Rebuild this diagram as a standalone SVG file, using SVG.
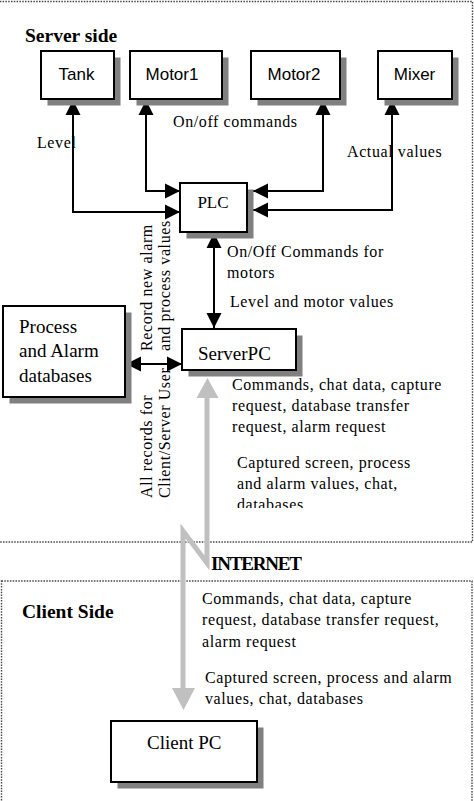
<svg xmlns="http://www.w3.org/2000/svg" width="474" height="801" viewBox="0 0 474 801">
<defs>
<style>
.area{fill:none;stroke:#444;stroke-width:1.4;stroke-dasharray:1.5 1.3}
.box{fill:#fff;stroke:#000;stroke-width:2}
.sh{fill:#808080}
.sans{font-family:"Liberation Sans",Arial,sans-serif;font-size:17px;fill:#000}
.ser{font-family:"Liberation Serif","Times New Roman",serif;font-size:16px;letter-spacing:0.6px;fill:#000}
.big{font-family:"Liberation Serif","Times New Roman",serif;font-size:19px;fill:#000}
.bold{font-family:"Liberation Serif","Times New Roman",serif;font-size:19.5px;font-weight:bold;fill:#000}
.conn{fill:none;stroke:#000;stroke-width:2;marker-start:url(#ah);marker-end:url(#ah)}
.net{fill:none;stroke:#c0c0c0;stroke-width:5}
</style>
<marker id="ah" markerUnits="userSpaceOnUse" markerWidth="16" markerHeight="16" viewBox="0 0 16 16" refX="15" refY="8" orient="auto-start-reverse">
<path d="M0,0.5 L15,8 L0,15.5 z" fill="#000"/>
</marker>
<clipPath id="clipdb"><rect x="0" y="0" width="474" height="508"/></clipPath>
</defs>

<g id="areas">
<rect class="area" x="-3" y="1.5" width="475.5" height="540.5"/>
<rect class="area" x="1.5" y="581" width="470.5" height="230"/>
</g>

<g id="labels-areas">
<text class="bold" x="25" y="42">Server side</text>
<text class="bold" x="22" y="618">Client Side</text>
<text class="bold" x="211" y="570" style="font-size:19px;letter-spacing:-1.2px">INTERNET</text>
</g>

<g id="connectors">
<polyline class="conn" points="73,100 73,212 180,212"/>
<polyline class="conn" points="146,100 146,191 180,191"/>
<polyline class="conn" points="323,100 323,191 253,191"/>
<polyline class="conn" points="392,100 392,210 253,210"/>
<line class="conn" x1="214" y1="233" x2="214" y2="328"/>
<line class="conn" x1="126" y1="364" x2="182" y2="364"/>
<polyline class="net" points="207,396 207,563 183,531 183,690"/>
<path d="M207.5,378 L218.5,398 L196.5,398 z" fill="#c0c0c0"/>
<path d="M183.5,710 L195,688 L172,688 z" fill="#c0c0c0"/>
</g>

<g id="tank">
<rect class="sh" x="47.5" y="57.5" width="73" height="48"/>
<rect class="box" x="41" y="51" width="73" height="48"/>
<text class="sans" x="76.5" y="80" text-anchor="middle">Tank</text>
</g>
<g id="motor1">
<rect class="sh" x="136.5" y="57.5" width="92" height="48"/>
<rect class="box" x="130" y="51" width="92" height="48"/>
<text class="sans" x="172" y="80" text-anchor="middle">Motor1</text>
</g>
<g id="motor2">
<rect class="sh" x="257.5" y="57.5" width="89" height="48"/>
<rect class="box" x="251" y="51" width="89" height="48"/>
<text class="sans" x="294" y="80" text-anchor="middle">Motor2</text>
</g>
<g id="mixer">
<rect class="sh" x="384.5" y="57.5" width="74" height="48"/>
<rect class="box" x="378" y="51" width="74" height="48"/>
<text class="sans" x="414.5" y="80" text-anchor="middle">Mixer</text>
</g>
<g id="plc">
<rect class="sh" x="186.5" y="189.5" width="67" height="49"/>
<rect class="box" x="180" y="183" width="67" height="49"/>
<text class="big" x="213" y="208" text-anchor="middle" style="font-size:17px">PLC</text>
</g>
<g id="serverpc">
<rect class="sh" x="188.5" y="335.5" width="114" height="41"/>
<rect class="box" x="182" y="329" width="114" height="41"/>
<text class="big" x="198" y="360">ServerPC</text>
</g>
<g id="databases">
<rect class="sh" x="9.5" y="312.5" width="122" height="91"/>
<rect class="box" x="3" y="306" width="122" height="91"/>
<text class="big" x="19" y="333">Process</text>
<text class="big" x="19" y="357">and Alarm</text>
<text class="big" x="19" y="382">databases</text>
</g>
<g id="clientpc">
<rect class="sh" x="117.5" y="727.5" width="146" height="61"/>
<rect class="box" x="111" y="721" width="146" height="61"/>
<text class="big" x="147" y="749">Client PC</text>
</g>

<g id="connector-labels">
<text class="ser" x="173" y="127">On/off commands</text>
<text class="ser" x="37" y="148">Level</text>
<text class="ser" x="347" y="157">Actual values</text>
<text class="ser" x="227" y="257">On/Off Commands for</text>
<text class="ser" x="227" y="278">motors</text>
<text class="ser" x="230" y="307">Level and motor values</text>
<text class="ser" transform="translate(152,351) rotate(-90)">Record new alarm</text>
<text class="ser" transform="translate(169.5,351) rotate(-90)">and process values</text>
<text class="ser" transform="translate(152,498) rotate(-90)">All records for</text>
<text class="ser" transform="translate(169.5,498) rotate(-90)">Client/Server User</text>
<text class="ser" x="232" y="390">Commands, chat data, capture</text>
<text class="ser" x="232" y="411">request, database transfer</text>
<text class="ser" x="232" y="432">request, alarm request</text>
<g clip-path="url(#clipdb)">
<text class="ser" x="237" y="468">Captured screen, process</text>
<text class="ser" x="237" y="489">and alarm values, chat,</text>
<text class="ser" x="237" y="510">databases</text>
</g>
<text class="ser" x="202" y="604">Commands, chat data, capture</text>
<text class="ser" x="202" y="625">request, database transfer request,</text>
<text class="ser" x="202" y="647">alarm request</text>
<text class="ser" x="205" y="683">Captured screen, process and alarm</text>
<text class="ser" x="205" y="704">values, chat, databases</text>
</g>
</svg>
